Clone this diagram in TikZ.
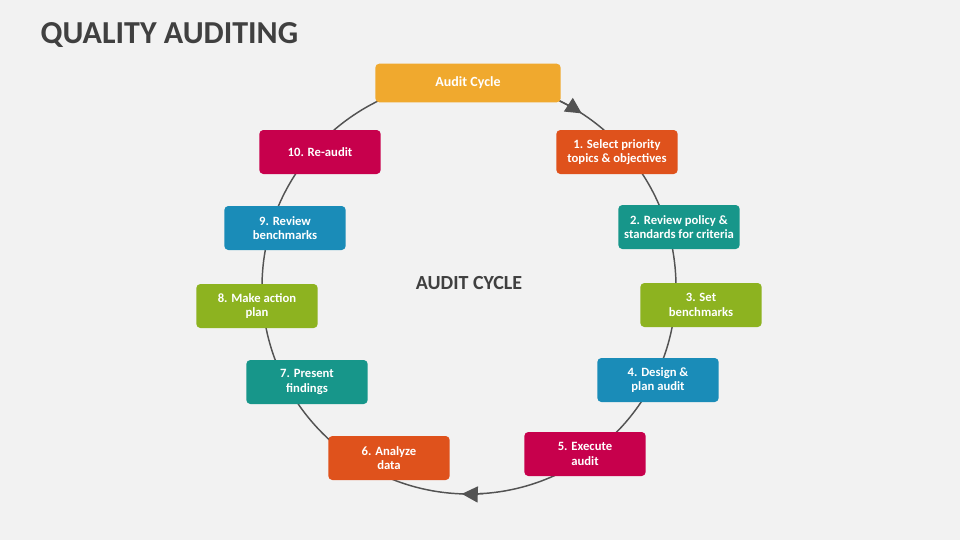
\documentclass[tikz,border=0pt]{standalone}
\usepackage{fontspec}
\setmainfont{Carlito}
\usetikzlibrary{arrows.meta}
\definecolor{bgc}{HTML}{F2F2F2}
\definecolor{cAud}{HTML}{F0A92E}
\definecolor{cOr}{HTML}{DF521C}
\definecolor{cTe}{HTML}{17968A}
\definecolor{cOl}{HTML}{8DB320}
\definecolor{cBl}{HTML}{1A8CB8}
\definecolor{cCr}{HTML}{C7004C}
\definecolor{ink}{HTML}{404040}
\tikzset{
 box/.style={draw=none,rounded corners=3pt,minimum width=91pt,minimum height=33pt,align=center,text=white,font=\fontsize{9.5}{11}\selectfont\bfseries,inner sep=1pt},
 ring/.style={draw=ink!90,line width=1.1pt}
}
\begin{document}
\begin{tikzpicture}[x=0.75pt,y=-0.75pt]
\fill[bgc] (0,0) rectangle (960,540);
\useasboundingbox (0,0) rectangle (960,540);
\coordinate (c) at (469,287);
\draw[ring] (c) circle[radius=155.25pt];
\draw[ring,-{Triangle[length=12pt,width=12pt]}] ([shift={(-64:207)}]c) arc[start angle=-64,end angle=-57,radius=207];
\draw[ring,-{Triangle[length=12pt,width=12pt]}] ([shift={(86:207)}]c) arc[start angle=86,end angle=92,radius=207];
\node[anchor=west,text=ink,font=\fontsize{24}{28}\selectfont\bfseries] (title) at (36,35) {QUALITY AUDITING};
\node[text=ink,font=\fontsize{15}{18}\selectfont\bfseries] (mid) at (469,283) {AUDIT CYCLE};
\node[box,fill=cAud,minimum width=139pt,minimum height=29pt,font=\fontsize{10.5}{12}\selectfont\bfseries] (a) at (468,83) {Audit Cycle};
\node[box,fill=cOr] (s1) at (617,152) {1. Select priority\\topics \& objectives};
\node[box,fill=cTe] (s2) at (679,227) {2. Review policy \&\\standards for criteria};
\node[box,fill=cOl] (s3) at (701,305) {3. Set\\benchmarks};
\node[box,fill=cBl] (s4) at (658,380) {4. Design \&\\plan audit};
\node[box,fill=cCr] (s5) at (585,454) {5. Execute\\audit};
\node[box,fill=cOr] (s6) at (389,458) {6. Analyze\\data};
\node[box,fill=cTe] (s7) at (307,382) {7. Present\\findings};
\node[box,fill=cOl] (s8) at (257,306) {8. Make action\\plan};
\node[box,fill=cBl] (s9) at (285,228) {9. Review\\benchmarks};
\node[box,fill=cCr] (s10) at (320,152) {10. Re-audit};
\end{tikzpicture}
\end{document}
